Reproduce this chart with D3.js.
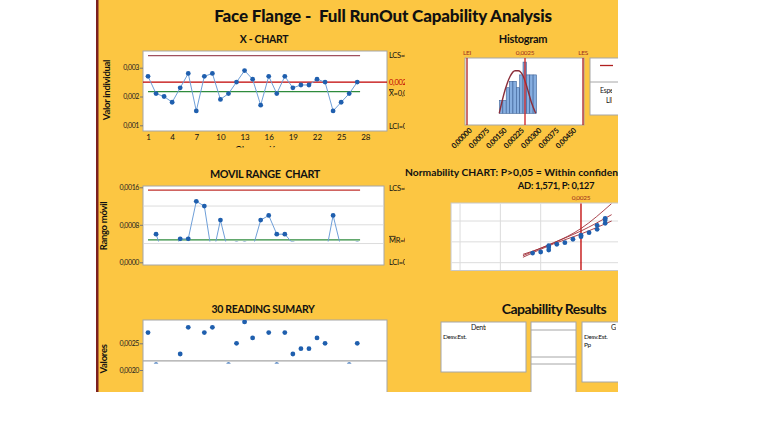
<!DOCTYPE html>
<html>
<head>
<meta charset="utf-8">
<script src="https://cdn.jsdelivr.net/npm/d3@7"></script>
<style>
body { margin: 0; background: #fff; }
text { font-family: Lato, "Open Sans", sans-serif; fill: #111; }
</style>
</head>
<body>
<div class="view"></div>
<script>
var width = 768;
var height = 433;

// lecturas individuales
var observations = [1, 2, 3, 4, 5, 6, 7, 8, 9, 10, 11, 12, 13, 14, 15, 16, 17, 18, 19, 20, 21, 22, 23, 24, 25, 26, 27];
var readings = [0.0027, 0.0021, 0.0020, 0.0018, 0.0023, 0.0028, 0.0015, 0.0027, 0.0028, 0.0019, 0.0021, 0.0025, 0.0029, 0.0026,
    0.0017, 0.0027, 0.0021, 0.0027, 0.0023, 0.0024, 0.0024, 0.0026, 0.0025, 0.0015, 0.0018, 0.0021, 0.0025];
var obsTicks = [1, 4, 7, 10, 13, 16, 19, 22, 25, 28];

// rango movil (obs 2..27)
var mrObs = [2, 3, 4, 5, 6, 7, 8, 9, 10, 11, 12, 13, 14, 15, 16, 17, 18, 19, 20, 21, 22, 23, 24, 25, 26, 27];
var movingRange = [0.0006, 0.0001, 0.0002, 0.0005, 0.0005, 0.0013, 0.0012, 0.0001, 0.0009, 0.0002, 0.0004, 0.0004, 0.0003,
    0.0009, 0.0010, 0.0006, 0.0006, 0.0004, 0.0001, 0.0000, 0.0002, 0.0001, 0.0010, 0.0003, 0.0003, 0.0004];

// limites
var xUcl = 0.00342, xTarget = 0.0025, xMean = 0.00217;
var mrUcl = 0.00154, mrMean = 0.00048;
var lei = 0, les = 0.005;
var xAxisTicks = [0.001, 0.002, 0.003];
var mrAxisTicks = [0, 0.0008, 0.0016];
var mrGrid = [0.0004, 0.0008, 0.0012];
var sumAxisTicks = [0.0020, 0.0025];

// histograma
var histEdges = [0.0014, 0.001545, 0.00169, 0.001835, 0.00198, 0.002125, 0.00227, 0.002415, 0.00256, 0.002705, 0.00285, 0.002995];
var histCounts = [2, 2, 4, 5, 5, 4, 6, 8, 6, 6, 6];
var histTicks = [0, 0.00075, 0.0015, 0.00225, 0.003, 0.00375, 0.0045];
var curveX = [0.00139, 0.00164, 0.00185, 0.00207, 0.00221, 0.0024, 0.0026, 0.00279, 0.00296];
var curveY = [0, 3.64, 5.72, 6.66, 6.66, 5.98, 3.9, 1.56, 0];

// grafica de normalidad
var probValues = [0.0019, 0.0020, 0.0021, 0.0021, 0.0021, 0.0022, 0.0023, 0.0024, 0.0025, 0.0025, 0.0026, 0.0027, 0.0027, 0.0028, 0.0028, 0.0028];
var probPct = [36.6, 37.8, 40.2, 43.8, 45.4, 47.1, 49, 53.1, 56.2, 57.9, 61, 65, 69.8, 72.2, 76.2, 78.2];
var bandX = [0.00178, 0.00216, 0.0025, 0.00288];
var fitPct = [33.4, 49.0, 63.0, 82.6];
var upperPct = [35, 48.6, 66, 96];
var lowerPct = [31.5, 47.6, 59.4, 75];
var probGridX = [0.001, 0.0015, 0.002, 0.003];
var probGridY = [25, 50, 75];

var yellow = "#fcc642";
var blue = "#1f5fae";
var fmt = function (d, n) { return d.toFixed(n).replace(".", ","); };

var svg = d3.select(".view")
    .append("svg")
    .attr("width", width)
    .attr("height", height);

var defs = svg.append("defs");
function clip(id, x, y, w, h) {
    defs.append("clipPath").attr("id", id)
        .append("rect").attr("x", x).attr("y", y).attr("width", w).attr("height", h);
    return "url(#" + id + ")";
}

svg.append("rect").attr("width", width).attr("height", height).attr("fill", "#fff");

var panel = svg.append("g").attr("clip-path", clip("panel", 96, 0, 522, 392));
panel.append("rect").attr("x", 96).attr("y", 0).attr("width", 522).attr("height", 392).attr("fill", yellow);
panel.append("rect").attr("x", 96).attr("y", 0).attr("width", 2.5).attr("height", 392).attr("fill", "#7b2020");

panel.append("text")
    .attr("x", 383).attr("y", 22)
    .attr("text-anchor", "middle")
    .attr("font-size", 17).attr("font-weight", 900)
    .attr("letter-spacing", -0.15)
    .text("Face Flange -\u00a0 Full RunOut Capability Analysis");

function title(x, y, txt, size) {
    panel.append("text")
        .attr("x", x).attr("y", y)
        .attr("text-anchor", "middle")
        .attr("font-size", size).attr("font-weight", "bold")
        .attr("letter-spacing", -0.3)
        .text(txt);
}

function yTitle(x, y, txt) {
    panel.append("text")
        .attr("transform", "translate(" + x + "," + y + ") rotate(-90)")
        .attr("text-anchor", "middle")
        .attr("font-size", 9.5).attr("font-weight", "bold")
        .attr("letter-spacing", -0.3)
        .text(txt);
}

function sideLabel(g, y, pre, txt, color) {
    var t = g.append("text")
        .attr("x", 389).attr("y", y)
        .attr("dy", "0.35em")
        .attr("font-size", 7.5)
        .attr("letter-spacing", -0.3)
        .style("fill", color || "#111");
    if (pre) t.append("tspan").style("text-decoration", "overline").text(pre);
    t.append("tspan").text(txt);
}

function styleAxis(a) {
    a.select(".domain").remove();
    a.selectAll("text").attr("font-size", 7).attr("letter-spacing", -0.4).style("fill", "#222");
    a.selectAll("line").attr("stroke", "#777");
}

var xObs = d3.scaleLinear().domain([1, 28]).range([148, 365.3]);

// ---- X CHART ----
title(264, 43, "X - CHART", 10.5);
yTitle(110, 90, "Valor individual");

var yX = d3.scaleLinear().domain([0.001, 0.003]).range([125.3, 67.7]);

panel.append("rect")
    .attr("x", 143).attr("y", 51).attr("width", 244).attr("height", 80)
    .attr("fill", "#fff").attr("stroke", "#a6a6a6");

var gx = panel.append("g");
gx.append("g")
    .attr("transform", "translate(143,0)")
    .call(d3.axisLeft(yX).tickValues(xAxisTicks).tickSize(3).tickPadding(1).tickFormat(function (d) { return fmt(d, 3); }))
    .call(styleAxis);

gx.append("g")
    .attr("transform", "translate(0,131)")
    .call(d3.axisBottom(xObs).tickValues(obsTicks).tickSize(0).tickPadding(3))
    .call(function (a) { a.select(".domain").remove(); a.selectAll("text").attr("font-size", 8); });

gx.append("text")
    .attr("x", 258).attr("y", 152)
    .attr("text-anchor", "middle").attr("font-size", 8).attr("font-weight", "bold")
    .attr("clip-path", clip("obsclip", 140, 100, 260, 47.5))
    .text("Observación");

gx.append("line")
    .attr("x1", xObs(1)).attr("x2", xObs(27.35))
    .attr("y1", yX(xUcl)).attr("y2", yX(xUcl))
    .attr("stroke", "#a0505e").attr("stroke-width", 1.3);
gx.append("line")
    .attr("x1", 143).attr("x2", 387)
    .attr("y1", yX(xTarget)).attr("y2", yX(xTarget))
    .attr("stroke", "#c00000").attr("stroke-width", 1.3);
gx.append("line")
    .attr("x1", xObs(1)).attr("x2", xObs(27.35))
    .attr("y1", yX(xMean)).attr("y2", yX(xMean))
    .attr("stroke", "#2e8b3c").attr("stroke-width", 1.3);

gx.append("path")
    .datum(observations)
    .attr("fill", "none").attr("stroke", "#6f9fd8").attr("stroke-width", 1)
    .attr("d", d3.line().x(function (d) { return xObs(d); }).y(function (d, i) { return yX(readings[i]); }));
gx.selectAll("circle")
    .data(observations)
    .enter().append("circle")
    .attr("cx", function (d) { return xObs(d); })
    .attr("cy", function (d, i) { return yX(readings[i]); })
    .attr("r", 2.4).attr("fill", blue);

var gxLab = gx.append("g").attr("clip-path", clip("xlab", 386, 40, 19, 100));
sideLabel(gxLab, yX(xUcl), null, "LCS=0,00342");
sideLabel(gxLab, yX(xTarget) + 0.5, null, "0,0025", "#c00000");
sideLabel(gxLab, yX(xMean) + 2, "X", "=0,00217");
sideLabel(gxLab, 126, null, "LCI=0,00092");

// ---- MOVIL RANGE CHART ----
title(265, 178, "MOVIL RANGE\u00a0 CHART", 10.8);
yTitle(107, 226, "Rango móvil");

var yMR = d3.scaleLinear().domain([0, 0.0016]).range([262.3, 187.3]);

panel.append("rect")
    .attr("x", 143).attr("y", 186).attr("width", 241).attr("height", 79)
    .attr("fill", "#fff").attr("stroke", "#a6a6a6");

var gm = panel.append("g");
gm.selectAll(".grid")
    .data(mrGrid)
    .enter().append("line")
    .attr("x1", 144).attr("x2", 383)
    .attr("y1", function (d) { return yMR(d); }).attr("y2", function (d) { return yMR(d); })
    .attr("stroke", "#dcdcdc");

gm.append("g")
    .attr("transform", "translate(143,0)")
    .call(d3.axisLeft(yMR).tickValues(mrAxisTicks).tickSize(3).tickPadding(1).tickFormat(function (d) { return fmt(d, 4); }))
    .call(styleAxis);

gm.append("g")
    .attr("transform", "translate(0,265)")
    .attr("clip-path", clip("mrticks", 140, 265, 250, 5.6))
    .call(d3.axisBottom(xObs).tickValues(obsTicks).tickSize(0).tickPadding(3))
    .call(function (a) { a.select(".domain").remove(); a.selectAll("text").attr("font-size", 8); });

gm.append("line")
    .attr("x1", xObs(1)).attr("x2", xObs(27.35))
    .attr("y1", yMR(mrUcl)).attr("y2", yMR(mrUcl))
    .attr("stroke", "#c0302c").attr("stroke-width", 1.3);
gm.append("line")
    .attr("x1", xObs(1)).attr("x2", xObs(27.35))
    .attr("y1", yMR(mrMean)).attr("y2", yMR(mrMean))
    .attr("stroke", "#2e8b3c").attr("stroke-width", 1.3);

var gmSeries = gm.append("g").attr("clip-path", clip("mrclip", 140, 180, 250, yMR(mrMean) + 1.8 - 180));
gmSeries.append("path")
    .datum(mrObs)
    .attr("fill", "none").attr("stroke", "#6f9fd8").attr("stroke-width", 1)
    .attr("d", d3.line().x(function (d) { return xObs(d); }).y(function (d, i) { return yMR(movingRange[i]); }));
gmSeries.selectAll("circle")
    .data(mrObs)
    .enter().append("circle")
    .attr("cx", function (d) { return xObs(d); })
    .attr("cy", function (d, i) { return yMR(movingRange[i]); })
    .attr("r", 2.4).attr("fill", blue);

var gmLab = gm.append("g").attr("clip-path", clip("mrlab", 386, 180, 19, 100));
sideLabel(gmLab, 188, null, "LCS=0,00154");
sideLabel(gmLab, yMR(mrMean) + 0.5, "M", "R=0,00048");
sideLabel(gmLab, 262, null, "LCI=0");

// ---- HISTOGRAM ----
title(523, 43, "Histogram", 11);

var xH = d3.scaleLinear().domain([lei, les]).range([467, 583]);
var yH = d3.scaleLinear().domain([0, 8]).range([113.3, 62.1]);

panel.append("rect")
    .attr("x", 465).attr("y", 58).attr("width", 119).attr("height", 67)
    .attr("fill", "#fff").attr("stroke", "#a6a6a6");

var gh = panel.append("g");
gh.selectAll(".bar")
    .data(histCounts)
    .enter().append("rect")
    .attr("x", function (d, i) { return xH(histEdges[i]); })
    .attr("width", function (d, i) { return xH(histEdges[i + 1]) - xH(histEdges[i]); })
    .attr("y", function (d) { return yH(d); })
    .attr("height", function (d) { return yH(0) - yH(d); })
    .attr("fill", "#86aee0").attr("stroke", "#3a5f95").attr("stroke-width", 0.6);

gh.append("path")
    .datum(curveX)
    .attr("fill", "none").attr("stroke", "#8b2e3a").attr("stroke-width", 1.4)
    .attr("d", d3.line().curve(d3.curveMonotoneX).x(function (d) { return xH(d); }).y(function (d, i) { return yH(curveY[i]); }));

[lei, xTarget, les].forEach(function (v) {
    gh.append("line")
        .attr("x1", xH(v)).attr("x2", xH(v))
        .attr("y1", 58).attr("y2", 125)
        .attr("stroke", v === xTarget ? "#d02020" : "#b02020").attr("stroke-width", 1.3);
});

gh.selectAll(".spec")
    .data([["LEI", lei], ["0,0025", xTarget], ["LES", les]])
    .enter().append("text")
    .attr("x", function (d) { return xH(d[1]); })
    .attr("y", 55)
    .attr("text-anchor", "middle").attr("font-size", 6.5).attr("letter-spacing", -0.3)
    .style("fill", "#a0301e")
    .text(function (d) { return d[0]; });

gh.selectAll(".htick")
    .data(histTicks)
    .enter().append("text")
    .attr("transform", function (d) { return "translate(" + (xH(d) + 2) + ",128) rotate(-45)"; })
    .attr("text-anchor", "end").attr("dy", "0.6em")
    .attr("font-size", 7.5).attr("font-weight", "bold").attr("letter-spacing", -0.4)
    .text(function (d) { return fmt(d, 5); });

// leyenda
panel.append("rect")
    .attr("x", 590).attr("y", 58).attr("width", 40).attr("height", 57)
    .attr("fill", "#fff").attr("stroke", "#a6a6a6");
panel.append("line")
    .attr("x1", 590).attr("x2", 630).attr("y1", 82).attr("y2", 82)
    .attr("stroke", "#a6a6a6");
panel.append("line")
    .attr("x1", 600).attr("x2", 613).attr("y1", 65.5).attr("y2", 65.5)
    .attr("stroke", "#b02020").attr("stroke-width", 1.3);
var gLeg = panel.append("g").attr("clip-path", clip("legclip", 590, 82, 22, 33));
gLeg.append("text").attr("x", 600).attr("y", 93).attr("font-size", 7).attr("letter-spacing", -0.3).text("Especificaciones");
gLeg.append("text").attr("x", 606).attr("y", 103).attr("font-size", 7).attr("letter-spacing", -0.3).text("LIE  0");

// ---- NORMALITY CHART ----
panel.append("text")
    .attr("x", 405).attr("y", 176)
    .attr("font-size", 10.3).attr("font-weight", "bold").attr("letter-spacing", 0)
    .text("Normability CHART: P>0,05 = Within confidence");
panel.append("text")
    .attr("x", 556).attr("y", 188.5)
    .attr("text-anchor", "middle")
    .attr("font-size", 9.5).attr("font-weight", "bold").attr("letter-spacing", -0.3)
    .text("AD: 1,571, P: 0,127");

var probX = d3.scaleLinear().domain([0.0009, 0.003]).range([452, 621.3]);
var probY = d3.scaleLinear().domain([25, 75]).range([262.7, 221]);

panel.append("text")
    .attr("x", probX(xTarget)).attr("y", 200)
    .attr("text-anchor", "middle").attr("font-size", 6.5).attr("letter-spacing", -0.3)
    .style("fill", "#a0301e")
    .text("0,0025");

panel.append("rect")
    .attr("x", 451).attr("y", 203).attr("width", 180).attr("height", 67.5)
    .attr("fill", "#fff").attr("stroke", "#c8c8c8");

var gp = panel.append("g").attr("clip-path", clip("probclip", 451.5, 203.5, 180, 66.5));
gp.selectAll(".gx")
    .data(probGridX)
    .enter().append("line")
    .attr("x1", function (d) { return probX(d); }).attr("x2", function (d) { return probX(d); })
    .attr("y1", 203).attr("y2", 271)
    .attr("stroke", "#dcdcdc");
gp.selectAll(".gy")
    .data(probGridY)
    .enter().append("line")
    .attr("x1", 451).attr("x2", 630)
    .attr("y1", function (d) { return probY(d); }).attr("y2", function (d) { return probY(d); })
    .attr("stroke", "#dcdcdc");

gp.append("line")
    .attr("x1", probX(xTarget)).attr("x2", probX(xTarget))
    .attr("y1", 203).attr("y2", 271)
    .attr("stroke", "#c00000").attr("stroke-width", 1.3);

[fitPct, upperPct, lowerPct].forEach(function (arr) {
    gp.append("path")
        .datum(bandX)
        .attr("fill", "none").attr("stroke", "#a0303a").attr("stroke-width", 0.9)
        .attr("d", d3.line().curve(d3.curveMonotoneX).x(function (d) { return probX(d); }).y(function (d, i) { return probY(arr[i]); }));
});

gp.selectAll("circle")
    .data(probValues)
    .enter().append("circle")
    .attr("cx", function (d) { return probX(d); })
    .attr("cy", function (d, i) { return probY(probPct[i]); })
    .attr("r", 2.4).attr("fill", blue);

// ---- 30 READING SUMARY ----
title(263, 313, "30 READING SUMARY", 10.5);
yTitle(107, 359, "Valores");

var ySum = d3.scaleLinear().domain([0.0020, 0.0025]).range([370, 343.3]);

panel.append("rect")
    .attr("x", 143).attr("y", 320).attr("width", 244).attr("height", 80)
    .attr("fill", "#fff").attr("stroke", "#a6a6a6");

var gs = panel.append("g");
gs.append("g")
    .attr("transform", "translate(143,0)")
    .call(d3.axisLeft(ySum).tickValues(sumAxisTicks).tickSize(3).tickPadding(1).tickFormat(function (d) { return fmt(d, 4); }))
    .call(styleAxis);

gs.append("line")
    .attr("x1", 143).attr("x2", 387)
    .attr("y1", ySum(xMean)).attr("y2", ySum(xMean))
    .attr("stroke", "#a6a6a6").attr("stroke-width", 1.2);

gs.append("g")
    .attr("clip-path", clip("sumclip", 140, 320, 250, ySum(xMean) + 2.5 - 320))
    .selectAll("circle")
    .data(observations)
    .enter().append("circle")
    .attr("cx", function (d) { return xObs(d); })
    .attr("cy", function (d, i) { return ySum(readings[i]); })
    .attr("r", 2.4).attr("fill", blue);

// ---- CAPABILITY RESULTS ----
panel.append("text")
    .attr("x", 554).attr("y", 314)
    .attr("text-anchor", "middle")
    .attr("font-size", 14).attr("font-weight", "bold").attr("letter-spacing", -0.5)
    .text("Capabillity Results");

var gc = panel.append("g");
gc.append("rect").attr("x", 441).attr("y", 322).attr("width", 85).attr("height", 50)
    .attr("fill", "#fff").attr("stroke", "#a6a6a6");
gc.append("rect").attr("x", 531).attr("y", 322).attr("width", 45).attr("height", 80)
    .attr("fill", "#fff").attr("stroke", "#a6a6a6");
[330, 357, 364].forEach(function (y) {
    gc.append("line").attr("x1", 531).attr("x2", 576).attr("y1", y).attr("y2", y).attr("stroke", "#a6a6a6");
});
gc.append("rect").attr("x", 582).attr("y", 322).attr("width", 50).attr("height", 60)
    .attr("fill", "#fff").attr("stroke", "#a6a6a6");

gc.append("text").attr("x", 471).attr("y", 329.5).attr("font-size", 7).attr("letter-spacing", -0.3)
    .attr("clip-path", clip("dentclip", 441, 322, 45, 10))
    .text("Dentro de");
gc.append("text").attr("x", 443).attr("y", 339).attr("font-size", 6.5).attr("letter-spacing", -0.3).text("Desv.Est.");
gc.append("text").attr("x", 611).attr("y", 329.5).attr("font-size", 7).attr("letter-spacing", -0.3)
    .attr("clip-path", clip("globclip", 582, 322, 34, 10))
    .text("Global");
gc.append("text").attr("x", 584).attr("y", 339).attr("font-size", 6.5).attr("letter-spacing", -0.3).text("Desv.Est.");
gc.append("text").attr("x", 584).attr("y", 347).attr("font-size", 6.5).attr("letter-spacing", -0.3).text("Pp");
</script>
</body>
</html>
